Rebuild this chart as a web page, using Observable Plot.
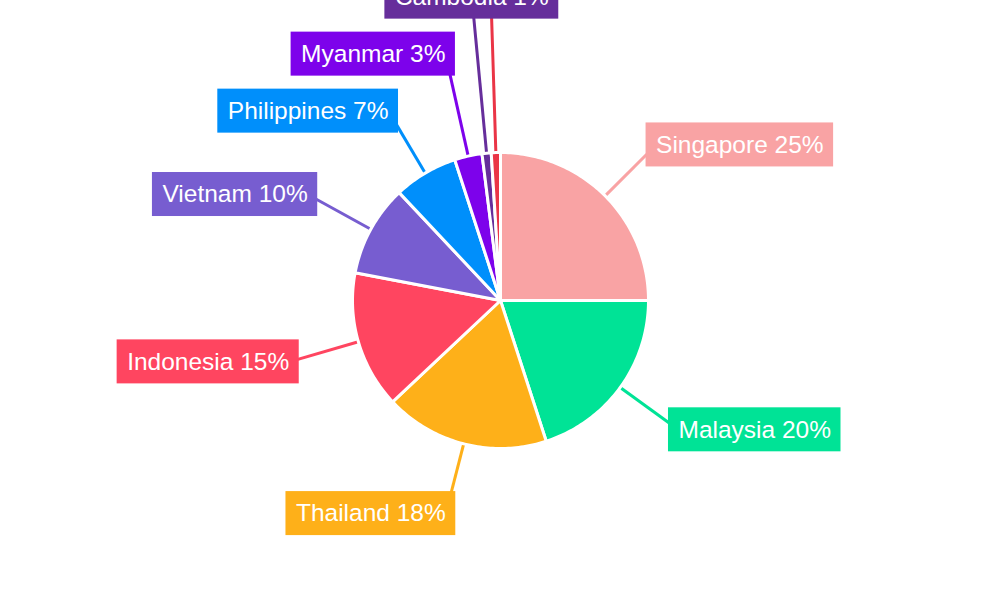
<!DOCTYPE html>
<html>
<head>
<meta charset="utf-8">
<script src="https://cdn.jsdelivr.net/npm/d3@7"></script>
<script src="https://cdn.jsdelivr.net/npm/@observablehq/plot@0.6"></script>
<style>
  html, body { margin: 0; padding: 0; background: #fff; overflow: hidden; }
  #chart svg { display: block; overflow: hidden; }
</style>
</head>
<body>
<div id="chart"></div>
<script>
// ---- data ----
const countries = ["Singapore", "Malaysia", "Thailand", "Indonesia", "Vietnam", "Philippines", "Myanmar", "Cambodia", "Laos"];
const shares = [25, 20, 18, 15, 10, 7, 3, 1, 1];
const colors = ["#F9A3A4", "#00E396", "#FEB019", "#FF4560", "#775DD0", "#008FFB", "#7D02EB", "#662E9B", "#EA3546"];

// ---- layout constants ----
const W = 1000, H = 600;
const R = 148;          // pie radius
const labelR = 220;     // label anchor radius
const boxH = 44, pad = 10, gap = 57;
const fontSize = 24.5;
const font = `${fontSize}px 'Liberation Sans', Arial, sans-serif`;

const ctx = document.createElement("canvas").getContext("2d");
ctx.font = font;

const arcs = d3.pie().sort(null).value(d => d)(shares);

// slice polygons
const slicePts = [];
arcs.forEach((a, i) => {
  const n = Math.max(2, Math.ceil((a.endAngle - a.startAngle) / (Math.PI / 180)));
  slicePts.push({country: countries[i], x: 0, y: 0});
  for (let k = 0; k <= n; k++) {
    const t = a.startAngle + (a.endAngle - a.startAngle) * k / n;
    slicePts.push({country: countries[i], x: R * Math.sin(t), y: R * Math.cos(t)});
  }
});

// labels
const labels = arcs.map((a, i) => {
  const mid = (a.startAngle + a.endAngle) / 2;
  const text = `${countries[i]} ${shares[i]}%`;
  const s = Math.sin(mid);
  return {
    country: countries[i], text, mid,
    side: Math.abs(s) < 0.15 ? "middle" : (s >= 0 ? "right" : "left"),
    half: s >= 0 ? "right" : "left",
    r: labelR,
    w: ctx.measureText(text).width
  };
});
labels.forEach(l => { l.x = l.r * Math.sin(l.mid); l.y = l.r * Math.cos(l.mid); });
// simple collision avoidance on the left half (moving upward)
const left = labels.filter(l => l.half === "left");
for (let i = 1; i < left.length; i++) {
  const prev = left[i - 1], cur = left[i];
  if (cur.y < prev.y + gap && Math.cos(cur.mid) > 0) {
    const ty = prev.y + gap;
    cur.r = ty / Math.cos(cur.mid);
    cur.x = cur.r * Math.sin(cur.mid);
    cur.y = ty;
  }
}
labels.forEach(l => {
  l.sx = R * Math.sin(l.mid); l.sy = R * Math.cos(l.mid);
  if (l.side === "right") { l.bx1 = l.x - pad; l.bx2 = l.x + l.w + pad; }
  else if (l.side === "left") { l.bx1 = l.x - l.w - pad; l.bx2 = l.x + pad; }
  else { l.bx1 = l.x - l.w / 2 - pad; l.bx2 = l.x + l.w / 2 + pad; }
  l.by1 = l.y - boxH / 2; l.by2 = l.y + boxH / 2;
});

const textOpts = {x: "x", y: "y", text: "text", fill: "#fff", fontSize};

const chart = Plot.plot({
  width: W, height: H, margin: 0,
  x: {domain: [-W / 2, W / 2], axis: null},
  y: {domain: [-H / 2, H / 2], axis: null},
  color: {type: "ordinal", domain: countries, range: colors},
  style: {fontFamily: "'Liberation Sans', Arial, sans-serif", background: "#fff"},
  marks: [
    Plot.link(labels, {x1: "sx", y1: "sy", x2: "x", y2: "y", stroke: "country", strokeWidth: 3}),
    Plot.line(slicePts, {x: "x", y: "y", z: "country", fill: "country", stroke: "#fff", strokeWidth: 3, curve: "linear-closed", strokeLinejoin: "round"}),
    Plot.rect(labels, {x1: "bx1", x2: "bx2", y1: "by1", y2: "by2", fill: "country"}),
    Plot.text(labels.filter(l => l.side === "right"), {...textOpts, textAnchor: "start"}),
    Plot.text(labels.filter(l => l.side === "left"), {...textOpts, textAnchor: "end"}),
    Plot.text(labels.filter(l => l.side === "middle"), {...textOpts, textAnchor: "middle"})
  ]
});
document.getElementById("chart").appendChild(chart);
</script>
</body>
</html>
